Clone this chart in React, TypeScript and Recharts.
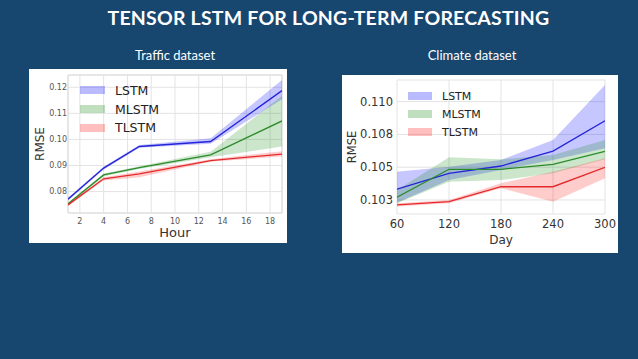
import React from 'react';
import {
  ComposedChart,
  Area,
  Line,
  XAxis,
  YAxis,
  CartesianGrid,
  ReferenceArea,
} from 'recharts';

// Traffic dataset (hours ahead)
const trafficHours = [1, 4, 7, 13, 19];
const trafficLstm = [0.0771, 0.089, 0.0973, 0.0992, 0.1187];
const trafficLstmLow = [0.0766, 0.0885, 0.0968, 0.0983, 0.1154];
const trafficLstmHigh = [0.0776, 0.0895, 0.0979, 0.1005, 0.1228];
const trafficMlstm = [0.0753, 0.0864, 0.0892, 0.0941, 0.1071];
const trafficMlstmLow = [0.0749, 0.0858, 0.0887, 0.0932, 0.0973];
const trafficMlstmHigh = [0.0757, 0.0869, 0.0897, 0.0953, 0.1167];
const trafficTlstm = [0.0749, 0.0849, 0.0868, 0.0919, 0.0944];
const trafficTlstmLow = [0.0745, 0.0843, 0.0855, 0.0914, 0.0935];
const trafficTlstmHigh = [0.0753, 0.0855, 0.0877, 0.0924, 0.0955];
const trafficXTicks = [2, 4, 6, 8, 10, 12, 14, 16, 18];
const trafficYTicks = [0.08, 0.09, 0.1, 0.11, 0.12];

// Climate dataset (days ahead)
const climateDays = [60, 120, 180, 240, 300];
const climateLstm = [0.10332, 0.10453, 0.10509, 0.10623, 0.10854];
const climateLstmLow = [0.10229, 0.10402, 0.10479, 0.10555, 0.10644];
const climateLstmHigh = [0.10466, 0.10504, 0.10555, 0.10707, 0.11127];
const climateMlstm = [0.10271, 0.10484, 0.10484, 0.10522, 0.10621];
const climateMlstmLow = [0.10225, 0.10389, 0.10402, 0.10453, 0.1056];
const climateMlstmHigh = [0.10326, 0.10575, 0.1056, 0.10593, 0.10707];
const climateTlstm = [0.10212, 0.10237, 0.10351, 0.10351, 0.10499];
const climateTlstmLow = [0.102, 0.10225, 0.10339, 0.10237, 0.10416];
const climateTlstmHigh = [0.10225, 0.1025, 0.10377, 0.10466, 0.10568];
const climateXTicks = [60, 120, 180, 240, 300];
const climateYTicks = [0.1025, 0.105, 0.1075, 0.11];
const climateYTickLabels = ['0.103', '0.105', '0.108', '0.110'];

const seriesNames = ['LSTM', 'MLSTM', 'TLSTM'];
const lineColors = ['#2424d8', '#2a8a2a', '#e42a2a'];
const bandColors = ['#0000ff', '#008000', '#ff0000'];
const bandOpacity = [0.22, 0.2, 0.2];

const BG = '#17466f';
const FONT = 'DejaVu Sans, sans-serif';

const buildRows = (
  xs: number[],
  means: number[][],
  lows: number[][],
  highs: number[][]
) =>
  xs.map((x, i) => {
    const row: any = { x };
    seriesNames.forEach((name, s) => {
      row[name] = means[s][i];
      row[name + '_band'] = [lows[s][i], highs[s][i]];
    });
    return row;
  });

const trafficRows = buildRows(
  trafficHours,
  [trafficLstm, trafficMlstm, trafficTlstm],
  [trafficLstmLow, trafficMlstmLow, trafficTlstmLow],
  [trafficLstmHigh, trafficMlstmHigh, trafficTlstmHigh]
);
const climateRows = buildRows(
  climateDays,
  [climateLstm, climateMlstm, climateTlstm],
  [climateLstmLow, climateMlstmLow, climateTlstmLow],
  [climateLstmHigh, climateMlstmHigh, climateTlstmHigh]
);

// legend drawn over the plot, like matplotlib's frameless legend
const LegendBox = ({ left, top, patchW, patchH, gap, rowH, fontSize }: any) => (
  <div style={{ position: 'absolute', left, top, fontFamily: FONT, fontSize, color: '#222' }}>
    {seriesNames.map((name, s) => (
      <div key={name} style={{ display: 'flex', alignItems: 'center', height: rowH, whiteSpace: 'nowrap' }}>
        <div
          style={{
            width: patchW,
            height: patchH,
            background: bandColors[s],
            opacity: bandOpacity[s] + 0.05,
            marginRight: gap,
            flex: 'none',
          }}
        />
        <span>{name}</span>
      </div>
    ))}
  </div>
);

// vertical axis title centred on the plot height
const yTitle = (text: string, dx: number, fontSize: number) => (props: any) => {
  const vb = props.viewBox || {};
  const x = (vb.x || 0) + dx;
  const y = (vb.y || 0) + (vb.height || 0) / 2;
  return (
    <text
      x={x}
      y={y}
      transform={`rotate(-90, ${x}, ${y})`}
      textAnchor="middle"
      dominantBaseline="central"
      fontSize={fontSize}
      fill="#333"
      fontFamily={FONT}
    >
      {text}
    </text>
  );
};

const renderSeries = () => (
  <>
    {seriesNames.map((name, s) => (
      <Area
        key={name + '_band'}
        type="linear"
        dataKey={name + '_band'}
        stroke="none"
        fill={bandColors[s]}
        fillOpacity={bandOpacity[s]}
        isAnimationActive={false}
        activeDot={false}
      />
    ))}
    {seriesNames.map((name, s) => (
      <Line
        key={name}
        type="linear"
        dataKey={name}
        stroke={lineColors[s]}
        strokeWidth={1.3}
        dot={false}
        activeDot={false}
        isAnimationActive={false}
      />
    ))}
  </>
);

const TrafficChart = () => (
  <ComposedChart width={258} height={174} data={trafficRows} margin={{ top: 6, right: 5, bottom: 0, left: 0 }}>
    <CartesianGrid stroke="#e3e3e3" />
    <ReferenceArea x1={1} x2={19} y1={0.0718} y2={0.1247} fill="none" stroke="#dcdcdc" ifOverflow="visible" />
    <XAxis
      type="number"
      dataKey="x"
      domain={[1, 19]}
      ticks={trafficXTicks}
      allowDataOverflow
      tickLine={false}
      axisLine={false}
      tickSize={0}
      tickMargin={5}
      height={30}
      tick={{ fontSize: 8, fill: '#555', fontFamily: FONT }}
      label={{ value: 'Hour', position: 'insideBottom', offset: 6, fontSize: 13, fill: '#333', fontFamily: FONT }}
    />
    <YAxis
      type="number"
      domain={[0.0718, 0.1247]}
      ticks={trafficYTicks}
      allowDataOverflow
      tickLine={false}
      axisLine={false}
      tickSize={0}
      tickMargin={1}
      width={39}
      tickFormatter={(v: number) => v.toFixed(2)}
      tick={{ fontSize: 8, fill: '#555', fontFamily: FONT }}
      label={{ content: yTitle('RMSE', 11, 12) }}
    />
    {renderSeries()}
  </ComposedChart>
);

const ClimateChart = () => (
  <ComposedChart width={276} height={178} data={climateRows} margin={{ top: 5, right: 13, bottom: 0, left: 0 }}>
    <CartesianGrid stroke="#e3e3e3" />
    <XAxis
      type="number"
      dataKey="x"
      domain={[60, 300]}
      ticks={climateXTicks}
      allowDataOverflow
      tickLine={false}
      axisLine={false}
      tickSize={0}
      tickMargin={6}
      height={39}
      tick={{ fontSize: 11.5, fill: '#333', fontFamily: FONT }}
      label={{ value: 'Day', position: 'insideBottom', offset: 9, fontSize: 12, fill: '#333', fontFamily: FONT }}
    />
    <YAxis
      type="number"
      domain={[0.10143, 0.11165]}
      ticks={climateYTicks}
      allowDataOverflow
      tickLine={false}
      axisLine={false}
      tickSize={0}
      tickMargin={4}
      width={55}
      tickFormatter={(v: number) => climateYTickLabels[climateYTicks.indexOf(v)] ?? ''}
      tick={{ fontSize: 11.5, fill: '#333', fontFamily: FONT }}
      label={{ content: yTitle('RMSE', 10, 11.5) }}
    />
    {renderSeries()}
  </ComposedChart>
);

const subtitleStyle: React.CSSProperties = {
  position: 'absolute',
  top: 47,
  textAlign: 'center',
  color: '#fff',
  fontFamily: 'Lato, sans-serif',
  fontSize: 13,
  whiteSpace: 'nowrap',
};

export default function App() {
  return (
    <div
      style={{
        position: 'fixed',
        left: 0,
        top: 0,
        width: 638,
        height: 359,
        background: BG,
        overflow: 'hidden',
      }}
    >
      <div
        style={{
          position: 'absolute',
          left: 0,
          top: 6,
          width: 657,
          textAlign: 'center',
          color: '#fff',
          fontFamily: 'Lato, sans-serif',
          fontWeight: 700,
          fontSize: 19.5,
          letterSpacing: 0.2,
        }}
      >
        TENSOR LSTM FOR LONG-TERM FORECASTING
      </div>
      <div style={{ ...subtitleStyle, left: 125, width: 100 }}>Traffic dataset</div>
      <div style={{ ...subtitleStyle, left: 422, width: 100 }}>Climate dataset</div>
      <div style={{ position: 'absolute', left: 29, top: 69, width: 258, height: 174, background: '#fff' }}>
        <TrafficChart />
        <LegendBox left={51} top={12} patchW={25} patchH={8} gap={10} rowH={18.7} fontSize={12.5} />
      </div>
      <div style={{ position: 'absolute', left: 342, top: 75, width: 276, height: 178, background: '#fff' }}>
        <ClimateChart />
        <LegendBox left={66} top={12} patchW={24} patchH={8} gap={10} rowH={18} fontSize={11} />
      </div>
    </div>
  );
}
